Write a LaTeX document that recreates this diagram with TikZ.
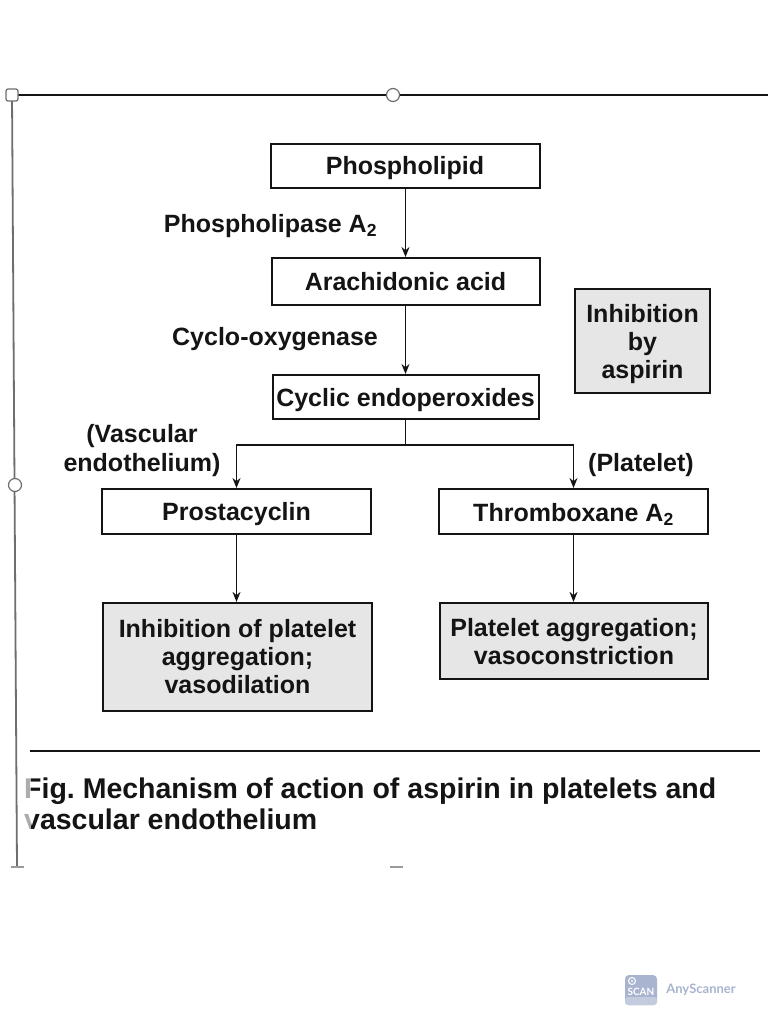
\documentclass[tikz,border=0pt]{standalone}
\usepackage{fontspec}
\setmainfont{Liberation Sans}
\newfontfamily\markfont{Lato}
\usetikzlibrary{arrows.meta}
\definecolor{shade}{HTML}{E6E6E6}
\definecolor{ink}{HTML}{141414}
\definecolor{frameline}{HTML}{6E6E6E}
\definecolor{markblue}{HTML}{A9B4D0}
\definecolor{markpale}{HTML}{C3CBDF}
\newcommand\dropby[1]{\rule{0pt}{#1pt}}
\tikzset{x=1pt,y=-1pt,
 diagfont/.style={font=\bfseries\fontsize{25}{28}\selectfont,text=ink},
 plainbox/.style={draw=ink,line width=2pt,fill=white,minimum width=#1,minimum height=44,inner sep=0pt,align=center,diagfont},
 greybox/.style={draw=ink,line width=2.2pt,fill=shade,inner sep=0pt,align=center,diagfont},
 lbl/.style={inner sep=0pt,align=center,diagfont},
 conn/.style={draw=ink,line width=1.6pt,-{Stealth[length=10pt,width=8pt]}},
 seg/.style={draw=ink,line width=1.6pt},
 capt/.style={inner sep=0pt,anchor=base west,align=left,text=ink,font=\bfseries\fontsize{28.5}{31}\selectfont},
 handle/.style={circle,draw=frameline,fill=white,line width=1.2pt,minimum size=13pt,inner sep=0pt}}
\begin{document}
\frenchspacing
\begin{tikzpicture}
\useasboundingbox (0,0) rectangle (768,1024);
\fill[white] (0,0) rectangle (768,1024);
% frame
\coordinate (tl) at (12,95);
\coordinate (tr) at (768,95);
\coordinate (bl) at (17,867);
\draw[ink,line width=1.5pt] (tl)--(tr);
\draw[frameline,line width=1.8pt] (tl)--(bl);
\node[handle] (h1) at (393,95) {};
\node[handle] (h2) at (15,485) {};
\node[draw=frameline,fill=white,line width=1.2pt,minimum size=12pt,inner sep=0pt,rounded corners=2pt] (h0) at (12,95) {};
\fill[frameline!70] (11,866) rectangle (24,868);
\fill[frameline!70] (390,866) rectangle (403,868);
% boxes
\node[plainbox=269] (pl) at (405,166) {\dropby{22}Phospholipid};
\node[plainbox=268,minimum height=47] (aa) at (405.5,281.5) {Arachidonic acid};
\node[plainbox=266] (ce) at (405.5,397) {\dropby{24}Cyclic endoperoxides};
\node[plainbox=269,minimum height=45] (pc) at (236.5,511.5) {\dropby{24}Prostacyclin};
\node[plainbox=269,minimum height=45] (tx) at (573.5,511.5) {\dropby{24}Thromboxane A\textsubscript{2}};
\node[greybox,minimum width=269,minimum height=108] (ip) at (237.5,657) {Inhibition of platelet\\aggregation;\\vasodilation};
\node[greybox,minimum width=268,minimum height=76] (pa) at (574,641) {\dropby{20}Platelet aggregation;\\vasoconstriction};
\node[greybox,minimum width=135,minimum height=104] (ia) at (642.5,341) {\dropby{24}Inhibition\\by\\aspirin};
% connectors
\draw[conn] (aa.north|-pl.south)--(aa.north);
\draw[conn] (aa.south)--(ce.north);
\coordinate (j) at (405.5,445);
\draw[seg] (ce.south)--(j);
\draw[conn] (j)-|(pc.north);
\draw[conn] (j)-|(tx.north);
\draw[conn] (pc.south)--(pc.south|-ip.north);
\draw[conn] (tx.south)--(tx.south|-pa.north);
% labels
\node[lbl] (l1) at (270.5,226) {Phospholipase A\textsubscript{2}};
\node[lbl] (l2) at (275,339) {Cyclo-oxygenase};
\node[lbl,font=\bfseries\fontsize{25}{29}\selectfont] (l3) at (142,451) {(Vascular\\endothelium)};
\node[lbl] (l4) at (641,465) {(Platelet)};
% rule and caption
\coordinate (r1) at (30,751);
\coordinate (r2) at (760,751);
\draw[ink,line width=2pt] (r1)--(r2);
\node[capt] (cap1) at (24,798) {Fig. Mechanism of action of aspirin in platelets and};
\node[capt] (cap2) at (24,829) {vascular endothelium};
\fill[white,opacity=.65] (22,775) rectangle (31,835);
% watermark
\fill[markblue,rounded corners=4pt] (625,975) rectangle (657,1005);
\fill[markpale,rounded corners=3pt] (625,997) rectangle (657,1005);
\draw[white,line width=1pt] (632,981) circle (3.5);
\fill[white] (632,981) circle (1.2);
\node[inner sep=0pt,text=white,font=\markfont\bfseries\fontsize{10}{10}\selectfont] (sc) at (641,992) {SCAN};
\node[inner sep=0pt,text=markblue,font=\markfont\bfseries\fontsize{13}{14}\selectfont] (as) at (701,990) {AnyScanner};
\end{tikzpicture}
\end{document}
